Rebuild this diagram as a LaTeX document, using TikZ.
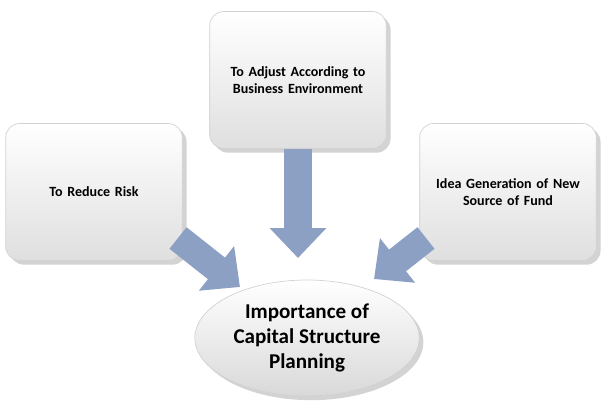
\documentclass[tikz,border=0pt]{standalone}
\usepackage{fontspec}
\setmainfont{Carlito}
\usetikzlibrary{shadows,arrows.meta,shapes.geometric}
\definecolor{arrowblue}{RGB}{140,160,196}
\tikzset{
  reason/.style={draw=gray!35, rounded corners=8pt, minimum width=3.44cm, minimum height=2.74cm,
    top color=white, bottom color=gray!25, drop shadow={opacity=0.35},
    align=center, font=\bfseries\footnotesize, text width=3.3cm},
  goal/.style={ellipse, draw=gray!35, minimum width=4.48cm, minimum height=2.32cm,
    top color=white, bottom color=gray!30, drop shadow={opacity=0.35},
    align=center, font=\bfseries\large},
  push/.style={line width=0.55cm, draw=arrowblue, -{Triangle[length=0.6cm,width=1.1cm]}}
}
\begin{document}
\begin{tikzpicture}[x=0.02cm,y=-0.02cm]
  \useasboundingbox (0,0) rectangle (602,406);

  \node[reason] (risk) at (94,192) {To Reduce Risk};
  \node[reason] (adjust) at (298,80) {To Adjust According to\\Business Environment};
  \node[reason] (fund) at (508,192) {Idea Generation of New\\Source of Fund};
  \node[goal] (plan) at (307,338) {Importance of\\Capital Structure\\Planning};

  \coordinate (riskend) at (240,287);
  \coordinate (adjustend) at (298,258);
  \coordinate (fundend) at (374,279);

  \draw[push] (178,238) -- (riskend);
  \draw[push] (adjust.south) -- (adjustend);
  \draw[push] (426,238) -- (fundend);
\end{tikzpicture}
\end{document}
